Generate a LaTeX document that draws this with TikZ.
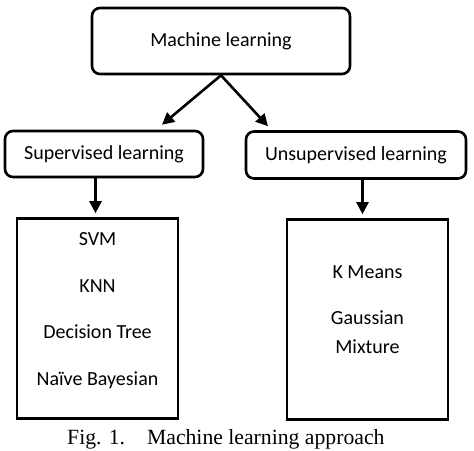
\documentclass[tikz,border=0pt]{standalone}
\usepackage{fontspec}
\setmainfont{Carlito}
\newfontfamily\capfont{Liberation Serif}
\usetikzlibrary{arrows.meta, calc}

\begin{document}
\begin{tikzpicture}[x=1pt, y=1pt,
    box/.style={draw, line width=2.6pt, rounded corners=8pt, font=\fontsize{20}{24}\selectfont},
    algobox/.style={draw, line width=2.6pt, minimum width=161pt, minimum height=200pt},
    algotext/.style={align=center, font=\fontsize{20}{24}\selectfont},
    arr/.style={line width=2.6pt, -{Triangle[length=12pt, width=12pt]}}]
    \useasboundingbox (0,0) rectangle (474,-450);

    % Boxes
    \node[box, minimum width=258pt, minimum height=66pt] (ml) at (221,-41) {Machine learning};
    \node[box, minimum width=198pt, minimum height=46pt] (sup) at (104,-154) {Supervised learning};
    \node[box, minimum width=220pt, minimum height=47pt] (unsup) at (356,-155) {Unsupervised learning};

    \node[algobox] (supalg) at (97.5,-318.5) {};
    \node[algobox] (unsupalg) at (367.5,-319.5) {};

    % Texts inside the lower boxes
    \node[algotext] (suptext) at ([yshift=8pt]supalg.center)
      {SVM\\[22.5pt] KNN\\[22.5pt] Decision Tree\\[22.5pt] Na\"ive Bayesian};
    \node[algotext] (unsuptext) at ([yshift=10pt]unsupalg.center)
      {K Means\\[22pt] Gaussian\\[5pt] Mixture};

    % Arrow ends
    \coordinate (supin) at ($(sup.north)+(58,5)$);
    \coordinate (unsupin) at ($(unsup.north)+(-88,4)$);
    \coordinate (supdown) at ([xshift=-2pt]supalg.north);
    \coordinate (unsupdown) at ([xshift=-5pt]unsupalg.north);

    % Arrows
    \draw[arr] (ml.south) -- (supin);
    \draw[arr] (ml.south) -- (unsupin);
    \draw[arr, shorten >=4pt] (sup.south -| supdown) -- (supdown);
    \draw[arr, shorten >=4pt] (unsup.south -| unsupdown) -- (unsupdown);

    % Caption
    \node[anchor=base west, inner sep=0pt, font=\capfont\fontsize{21.7}{26}\selectfont] (cap) at (67,-444)
      {Fig. 1.\hspace{22pt}Machine learning approach};
\end{tikzpicture}
\end{document}
